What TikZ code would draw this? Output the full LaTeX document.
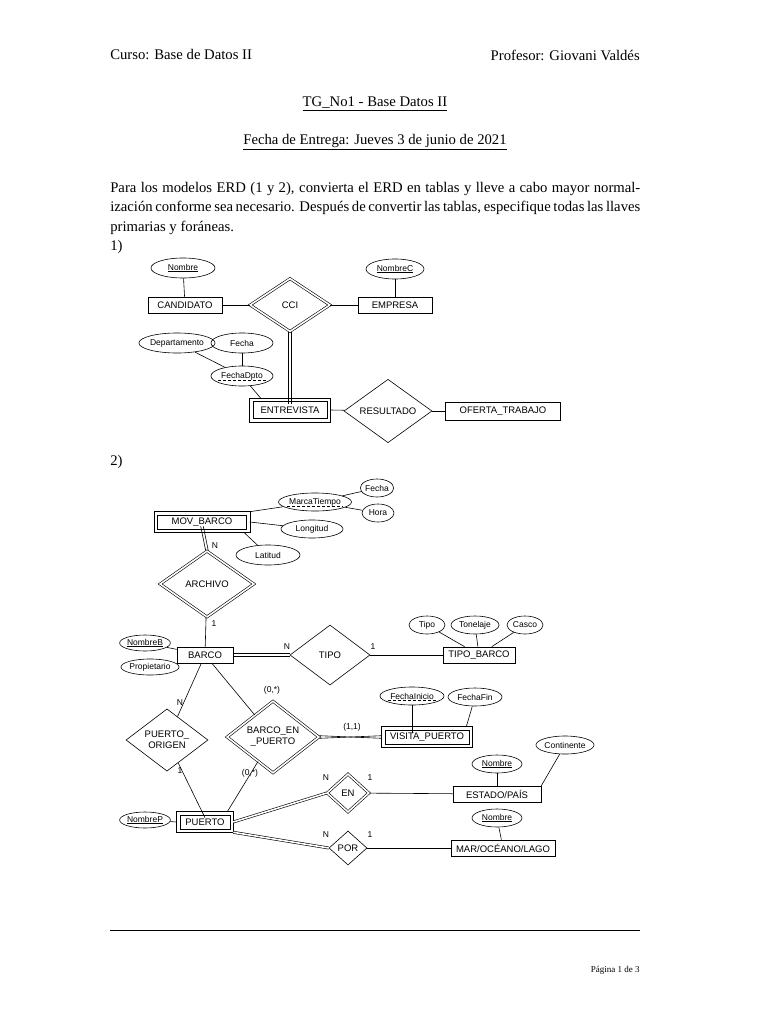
\documentclass[tikz,border=0pt]{standalone}
\usepackage{fontspec}
\setmainfont{Liberation Serif}
\newfontfamily\dsans{Liberation Sans}
\usetikzlibrary{shapes.geometric}
\begin{document}
\begin{tikzpicture}[x=1pt,y=-1pt,line width=0.6pt,
  body/.style={font=\fontsize{14.7}{19.5}\selectfont,inner sep=0},
  ent/.style={draw,rectangle,inner sep=0,font=\dsans\fontsize{9.5}{10}\selectfont},
  attr/.style={draw,ellipse,inner sep=0,font=\dsans\fontsize{8.5}{10}\selectfont},
  rel/.style={draw,diamond,inner sep=0,font=\dsans\fontsize{9.5}{11}\selectfont,align=center},
  wrel/.style={rel,double,double distance=1.6pt},
  card/.style={font=\dsans\fontsize{8.5}{10}\selectfont,inner sep=0}]
\useasboundingbox (0,0) rectangle (768,1024);
% header/footer
\node[body,anchor=west] (h1) at (110,55) {Curso: Base de Datos II};
\node[body,anchor=east] (h2) at (640,55) {Profesor: Giovani Valdés};
\node[body] (t1) at (375,104) {\underline{TG\_No1 - Base Datos II}};
\node[body] (t2) at (375,142) {\underline{Fecha de Entrega: Jueves 3 de junio de 2021}};
\node[body,anchor=north west,text width=530,align=justify] (p) at (110,182)
 {Para los modelos ERD (1 y 2), convierta el ERD en tablas y lleve a cabo mayor normalización conforme sea necesario. Después de convertir las tablas, especifique todas las llaves primarias y foráneas.\par\raggedright 1)};
\node[body,anchor=west] (two) at (110,462) {2)};
\coordinate (fl1) at (110,930); \coordinate (fl2) at (640,930);
\draw[line width=0.5pt] (fl1) -- (fl2);
\node[anchor=east,inner sep=0,font=\fontsize{9}{10}\selectfont] (pg) at (640,970) {Página 1 de 3};
% ---- diagram 1
\node[attr,minimum width=64,minimum height=20] (nom) at (183,268) {\underline{Nombre}};
\node[ent,minimum width=74,minimum height=16] (cand) at (185,305) {CANDIDATO};
\node[wrel,minimum width=80,minimum height=53] (cci) at (290,305) {CCI};
\node[ent,minimum width=74,minimum height=16] (emp) at (395,305) {EMPRESA};
\node[attr,minimum width=58,minimum height=20] (nomc) at (395,269) {\underline{NombreC}};
\node[attr,minimum width=72,minimum height=20] (dep) at (177,343) {Departamento};
\node[attr,minimum width=62,minimum height=20] (fec) at (242,343) {Fecha};
\node[attr,minimum width=62,minimum height=20] (fdp) at (242,376) {FechaDpto};
\draw[densely dashed,line width=0.4pt] ([xshift=-24,yshift=-4]fdp.center) -- ([xshift=24,yshift=-4]fdp.center);
\node[ent,minimum width=74,minimum height=17] (entr) at (290,410) {ENTREVISTA};
\draw ([shift={(-3,-3)}]entr.north west) rectangle ([shift={(3,3)}]entr.south east);
\node[rel,minimum width=88,minimum height=50] (res) at (388,411) {RESULTADO};
\node[ent,minimum width=115,minimum height=18] (of) at (503,411) {OFERTA\_TRABAJO};
\draw (nom) -- (cand); \draw (cand) -- (cci); \draw (cci) -- (emp); \draw (nomc) -- (emp);
\draw ([xshift=-1.3]cci.south) -- ([xshift=-1.3,yshift=-3]entr.north);
\draw ([xshift=1.3]cci.south) -- ([xshift=1.3,yshift=-3]entr.north);
\draw (dep) -- (fdp); \draw (fec) -- (fdp); \draw (fdp) -- ([shift={(8,-3)}]entr.north west);
\draw ([xshift=3]entr.east) -- (res); \draw (res) -- (of);
% ---- diagram 2
\node[ent,minimum width=89,minimum height=14] (mov) at (202,522) {MOV\_BARCO};
\draw ([shift={(-3,-3)}]mov.north west) rectangle ([shift={(3,3)}]mov.south east);
\node[attr,minimum width=72,minimum height=18] (mt) at (315,502) {MarcaTiempo};
\draw[densely dashed,line width=0.4pt] ([xshift=-28,yshift=-4]mt.center) -- ([xshift=28,yshift=-4]mt.center);
\node[attr,minimum width=32,minimum height=18] (f2) at (377,488) {Fecha};
\node[attr,minimum width=32,minimum height=18] (hora) at (378,513) {Hora};
\node[attr,minimum width=62,minimum height=18] (lon) at (312,529) {Longitud};
\node[attr,minimum width=64,minimum height=20] (lat) at (268,555) {Latitud};
\draw (mt) -- ([shift={(3,-3)}]mov.north east); \draw (mt) -- (f2); \draw (mt) -- (hora);
\draw (lon) -- ([xshift=3]mov.east); \draw (lat) -- ([shift={(-3,3)}]mov.south east);
\node[wrel,minimum width=94,minimum height=66] (arch) at (207,584) {ARCHIVO};
\node[card] (cn1) at (215,546) {N};
\node[card] (c11) at (214,624) {1};
\draw ([xshift=-1.3,yshift=3]mov.south) -- ([xshift=-1.3]arch.north);
\draw ([xshift=1.3,yshift=3]mov.south) -- ([xshift=1.3]arch.north);
\node[ent,minimum width=56,minimum height=16] (barco) at (205,655) {BARCO};
\draw (arch) -- (barco);
\node[attr,minimum width=46,minimum height=16] (nb) at (145,643) {\underline{NombreB}};
\node[attr,minimum width=52,minimum height=16] (prop) at (150,667) {Propietario};
\draw (nb) -- (barco); \draw (prop) -- (barco.south west);
\node[rel,minimum width=80,minimum height=60] (tipo) at (330,655) {TIPO};
\node[ent,minimum width=72,minimum height=16] (tb) at (479,655) {TIPO\_BARCO};
\node[card] (cn2) at (287,647) {N}; \node[card] (c12) at (373,647) {1};
\draw ([yshift=-1.3]barco.east) -- ([yshift=-1.3]tipo.west);
\draw ([yshift=1.3]barco.east) -- ([yshift=1.3]tipo.west);
\draw (tipo) -- (tb);
\node[attr,minimum width=36,minimum height=18] (tp) at (427,625) {Tipo};
\node[attr,minimum width=48,minimum height=18] (ton) at (475,625) {Tonelaje};
\node[attr,minimum width=36,minimum height=18] (cas) at (525,625) {Casco};
\draw (tp) -- (tb); \draw (ton) -- (tb); \draw (cas) -- (tb);
\node[rel,minimum width=82,minimum height=60] (po) at (167,740) {PUERTO\_\\ORIGEN};
\node[card] (cn3) at (180,703) {N}; \node[card] (c13) at (180,771) {1};
\node[wrel,minimum width=92,minimum height=66] (bep) at (273,737) {BARCO\_EN\\\_PUERTO};
\node[card] (c0a) at (272,690) {(0,*)}; \node[card] (c0b) at (250,773) {(0,*)};
\node[card] (c11b) at (352,727) {(1,1)};
\node[ent,minimum width=84,minimum height=14] (vp) at (427,737) {VISITA\_PUERTO};
\draw ([shift={(-3,-3)}]vp.north west) rectangle ([shift={(3,3)}]vp.south east);
\node[attr,minimum width=64,minimum height=18] (fi) at (412,696) {FechaInicio};
\draw[densely dashed,line width=0.4pt] ([xshift=-24,yshift=-4]fi.center) -- ([xshift=24,yshift=-4]fi.center);
\node[attr,minimum width=54,minimum height=18] (ff) at (475,697) {FechaFin};
\draw (fi) -- ([yshift=-3]vp.north -| fi); \draw (ff) -- ([shift={(-3,-3)}]vp.north east);
\draw (barco) -- (po); \draw (barco) -- (bep);
\draw ([yshift=-1.3]bep.east) -- ([shift={(-3,-1.3)}]vp.west);
\draw ([yshift=1.3]bep.east) -- ([shift={(-3,1.3)}]vp.west);
\node[ent,minimum width=50,minimum height=14] (pu) at (205,822) {PUERTO};
\draw ([shift={(-3,-3)}]pu.north west) rectangle ([shift={(3,3)}]pu.south east);
\node[attr,minimum width=46,minimum height=16] (np) at (145,820) {\underline{NombreP}};
\draw (np) -- ([xshift=-3]pu.west); \draw (po) -- ([yshift=-3]pu.north); \draw (bep) -- ([shift={(-3,-3)}]pu.north east);
\node[wrel,minimum width=42,minimum height=38] (en) at (348,793) {EN};
\node[ent,minimum width=88,minimum height=16] (est) at (497,794) {ESTADO/PAÍS};
\node[attr,minimum width=50,minimum height=18] (ne) at (497,764) {\underline{Nombre}};
\node[attr,minimum width=56,minimum height=18] (cont) at (565,745) {Continente};
\draw (ne) -- (est); \draw (cont) -- (est.north east);
\node[card] (cn4) at (326,778) {N}; \node[card] (c14) at (370,778) {1};
\draw[double,double distance=1.6pt] ([xshift=3]pu.east) -- (en.west); \draw (en) -- (est);
\node[rel,minimum width=38,minimum height=34] (por) at (348,848) {POR};
\node[ent,minimum width=104,minimum height=16] (mar) at (503,848) {MAR/OCÉANO/LAGO};
\node[attr,minimum width=50,minimum height=18] (nm) at (497,818) {\underline{Nombre}};
\draw (nm) -- (mar);
\node[card] (cn5) at (326,835) {N}; \node[card] (c15) at (370,835) {1};
\draw[double,double distance=1.6pt] ([shift={(3,3)}]pu.south east) -- (por.west); \draw (por) -- (mar);
\end{tikzpicture}
\end{document}
